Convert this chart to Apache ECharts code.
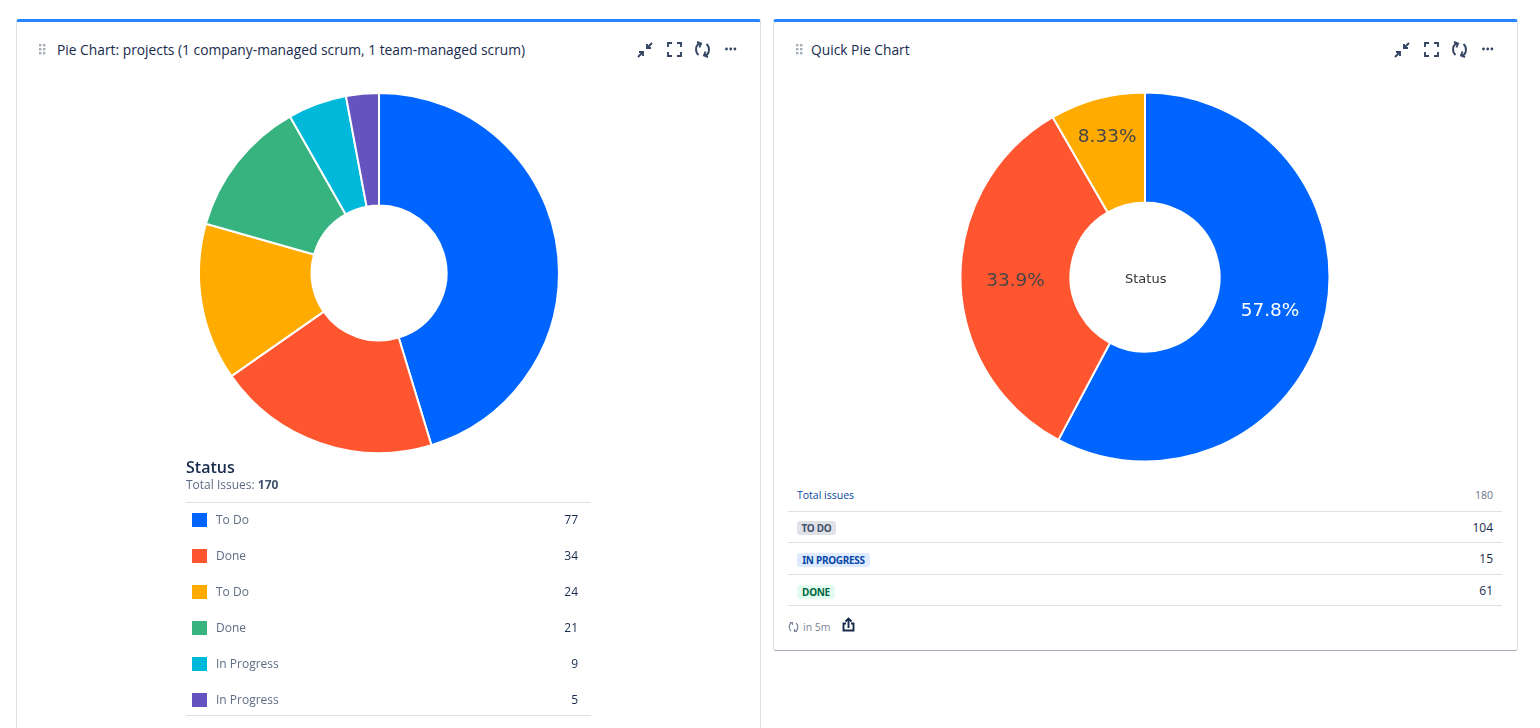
<!DOCTYPE html>
<html>
<head>
<meta charset="utf-8">
<title>Pie charts</title>
<script src="https://cdn.jsdelivr.net/npm/echarts@6/dist/echarts.min.js"></script>
<style>
html, body { margin: 0; padding: 0; background: #fff; overflow: hidden; }
body { width: 1540px; height: 728px; position: relative; font-family: "Open Sans", "Noto Sans", sans-serif; color: #172B4D; }
.card { position: absolute; box-sizing: border-box; background: #fff; border: 1px solid #DFE1E6; border-top: 3px solid #2684FF; border-radius: 3px 3px 0 0; }
#card1 { left: 16px; top: 19px; width: 745px; height: 720px; }
#card2 { left: 773px; top: 19px; width: 745px; height: 632px; border-bottom: 1px solid #A5ADBA; border-radius: 3px; }
.t { position: absolute; white-space: nowrap; line-height: 1; }
.title { font-size: 13.8px; font-weight: 500; top: 43px; }
.line { position: absolute; height: 1px; background: #DFE1E6; }
.swatch { position: absolute; width: 15px; height: 14px; left: 192px; }
.loz { position: absolute; left: 797px; height: 14px; line-height: 14px; border-radius: 3px; font-family: "Noto Sans", sans-serif; font-size: 10px; letter-spacing: -0.3px; font-weight: 700; text-align: center; }
.chart { position: absolute; }
svg.ic { position: absolute; fill: none; stroke: #344563; stroke-width: 1.9; }
</style>
</head>
<body>
<div class="card" id="card1"></div>
<div class="card" id="card2"></div>
<div class="chart" id="pie1" style="left:180px;top:80px;width:400px;height:385px"></div>
<div class="chart" id="pie2" style="left:945px;top:80px;width:400px;height:395px"></div>
<div id="overlay"></div>
<script>
var pieStatus = ['To Do', 'Done', 'To Do', 'Done', 'In Progress', 'In Progress']
var pieValues = [77, 34, 24, 21, 9, 5]
var pieColors = ['#0065FF', '#FF5630', '#FFAB00', '#36B37E', '#00B8D9', '#6554C0']

var quickStatus = ['TO DO', 'IN PROGRESS', 'DONE']
var quickValues = [104, 15, 61]
var quickSlices = [104, 61, 15]
var quickLabels = ['57.8%', '33.9%', '8.33%']
var quickColors = ['#0065FF', '#FF5630', '#FFAB00']
var quickLabelColors = ['#ffffff', '#464646', '#464646']
var quickLabelOffsets = [[-3.5, 2], [3, 2], [-3.5, -12]]

function initPie1() {
    var chart = echarts.init(document.getElementById('pie1'))
    chart.setOption({
        animation: false,
        series: [{
            type: 'pie',
            center: [199, 193],
            radius: [67.5, 180],
            silent: true,
            label: { show: false },
            labelLine: { show: false },
            itemStyle: { borderColor: '#fff', borderWidth: 2 },
            data: pieValues.map(function (v, i) {
                return { value: v, name: pieStatus[i], itemStyle: { color: pieColors[i] } }
            })
        }]
    })
}

function initPie2() {
    var chart = echarts.init(document.getElementById('pie2'))
    chart.setOption({
        animation: false,
        title: {
            text: 'Status',
            left: 175,
            top: 188,
            textStyle: { fontFamily: 'DejaVu Sans', fontSize: 13, fontWeight: 'normal', color: '#333' }
        },
        series: [{
            type: 'pie',
            center: [200, 197],
            radius: [74.5, 184.5],
            silent: true,
            labelLine: { show: false },
            itemStyle: { borderColor: '#fff', borderWidth: 2 },
            data: quickSlices.map(function (v, i) {
                return {
                    value: v,
                    name: quickLabels[i],
                    itemStyle: { color: quickColors[i] },
                    label: {
                        show: true,
                        position: 'inside',
                        formatter: quickLabels[i],
                        fontFamily: 'DejaVu Sans',
                        fontSize: 18.5,
                        color: quickLabelColors[i],
                        offset: quickLabelOffsets[i]
                    }
                }
            })
        }]
    })
}

var overlay = document.getElementById('overlay')

function addText(text, left, cy, size, color, weight, right) {
    var el = document.createElement('div')
    el.className = 't'
    el.innerHTML = text
    el.style.fontSize = size + 'px'
    el.style.color = color
    el.style.fontWeight = weight || 400
    el.style.top = (cy - size / 2 - 1) + 'px'
    if (right) el.style.right = (1540 - left) + 'px'
    else el.style.left = left + 'px'
    overlay.appendChild(el)
}

function addLine(left, width, top) {
    var el = document.createElement('div')
    el.className = 'line'
    el.style.left = left + 'px'
    el.style.width = width + 'px'
    el.style.top = top + 'px'
    overlay.appendChild(el)
}

function addIcons(x, handleX) {
    var html = ''
    // drag handle
    html += '<svg class="ic" style="left:' + handleX + 'px;top:44px;stroke:none;fill:#A5ADBA" width="8" height="11">'
    for (var r = 0; r < 3; r++) {
        html += '<rect x="0" y="' + (r * 4) + '" width="2.4" height="2.4"/><rect x="4" y="' + (r * 4) + '" width="2.4" height="2.4"/>'
    }
    html += '</svg>'
    // collapse
    html += '<svg class="ic" style="left:' + x + 'px;top:42px" width="16" height="16"><path d="M15 1 L10 6 M10 2 V6 H14 M1 15 L6 10 M2 10 H6 V14"/></svg>'
    // expand
    html += '<svg class="ic" style="left:' + (x + 30) + 'px;top:42px" width="15" height="15"><path d="M1 5 V1 H5 M10 1 H14 V5 M14 10 V14 H10 M5 14 H1 V10"/></svg>'
    // refresh
    html += '<svg class="ic" style="left:' + (x + 57) + 'px;top:41px" width="17" height="17"><path d="M6 2.5 C1 4 1 11 4.5 14 M3 1 L7 2.5 L5.5 6.5 M11 14.5 C16 13 16 6 12.5 3 M14 16 L10 14.5 L11.5 10.5"/></svg>'
    // more
    html += '<svg class="ic" style="left:' + (x + 88) + 'px;top:47px;stroke:none;fill:#344563" width="12" height="4"><circle cx="1.5" cy="2" r="1.4"/><circle cx="5.7" cy="2" r="1.4"/><circle cx="9.9" cy="2" r="1.4"/></svg>'
    overlay.insertAdjacentHTML('beforeend', html)
}

function initPanels() {
    // headers
    addIcons(637, 39)
    addIcons(1394, 796)
    var h1 = document.createElement('div')
    h1.className = 't title'
    h1.style.left = '57px'
    h1.innerHTML = 'Pie Chart: projects (1 company-managed scrum, 1 team-managed scrum)'
    overlay.appendChild(h1)
    var h2 = document.createElement('div')
    h2.className = 't title'
    h2.style.left = '811px'
    h2.innerHTML = 'Quick Pie Chart'
    overlay.appendChild(h2)

    // left legend
    addText('Status', 186, 468, 16, '#172B4D', 600)
    addText('Total Issues: <b style="color:#42526E">170</b>', 186, 486, 12, '#5E6C84')
    addLine(186, 405, 502)
    pieStatus.forEach(function (name, i) {
        var cy = 520.5 + i * 36
        var sw = document.createElement('div')
        sw.className = 'swatch'
        sw.style.top = (cy - 8) + 'px'
        sw.style.background = pieColors[i]
        overlay.appendChild(sw)
        addText(name, 216, cy, 12, '#5E6C84')
        addText(String(pieValues[i]), 578, cy, 12, '#172B4D', 400, true)
    })
    addLine(186, 405, 715)

    // right table
    var lozWidths = [39, 73, 38]
    var lozBg = ['#DFE1E6', '#DEEBFF', '#E3FCEF']
    var lozFg = ['#42526E', '#0747A6', '#006644']
    var rowY = [528, 559.5, 591.5]
    addText('Total issues', 797, 496, 10.5, '#0747A6')
    addText('180', 1493, 496, 10.5, '#6B778C', 400, true)
    addLine(788, 714, 511)
    quickStatus.forEach(function (name, i) {
        var loz = document.createElement('div')
        loz.className = 'loz'
        loz.style.top = (rowY[i] - 7) + 'px'
        loz.style.width = lozWidths[i] + 'px'
        loz.style.background = lozBg[i]
        loz.style.color = lozFg[i]
        loz.textContent = name
        overlay.appendChild(loz)
        addText(String(quickValues[i]), 1493, rowY[i] + 0.5, 12, '#172B4D', 400, true)
    })
    addLine(788, 714, 542)
    addLine(788, 714, 574)
    addLine(788, 714, 605)

    // footer
    overlay.insertAdjacentHTML('beforeend',
        '<svg class="ic" style="left:788px;top:621px;stroke:#7A869A;stroke-width:1.2" width="11" height="12"><path d="M4 1.5 C0.5 2.5 0.5 8 3 10 M2 1.5 H4.5 V4 M7 10.5 C10.5 9.5 10.5 4 8 2 M9 10.5 H6.5 V8"/></svg>' +
        '<svg class="ic" style="left:842px;top:617px;stroke:#172B4D" width="13" height="15"><path d="M6.5 11 V2 M3.5 4.5 L6.5 1.5 L9.5 4.5 M4 6.5 H1.5 V13.5 H11.5 V6.5 H9"/></svg>')
    addText('in 5m', 803, 628, 10.5, '#7A869A')
}

initPie1()
initPie2()
initPanels()
</script>
</body>
</html>
